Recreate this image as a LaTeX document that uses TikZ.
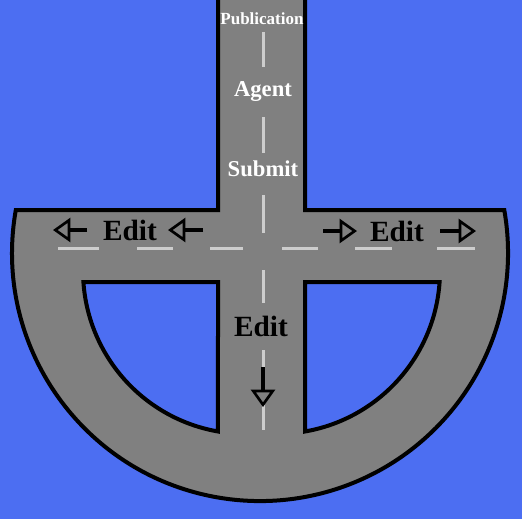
\documentclass[tikz,border=0pt]{standalone}
\usepackage{fontspec}
\setmainfont{Liberation Serif}
\usepackage{xcolor}
\usetikzlibrary{arrows.meta}
\definecolor{skyblue}{RGB}{76,110,242}
\definecolor{roadgray}{RGB}{128,128,128}
\definecolor{lanewhite}{RGB}{205,205,205}

\tikzset{
  road/.style={draw=black, line width=3pt, fill=roadgray, even odd rule},
  lane/.style={draw=lanewhite, line width=2.25pt},
  sign/.style={draw=black, line width=2.3pt, -{Triangle[length=13pt,width=18pt,line width=2pt,fill=roadgray]}},
  whitelabel/.style={text=white, font=\bfseries\fontsize{17}{20}\selectfont, inner sep=0pt},
  editlabel/.style={text=black, font=\bfseries\fontsize{22}{26}\selectfont, inner sep=0pt}
}

\begin{document}
\begin{tikzpicture}[x=0.75pt,y=0.75pt,yscale=-1,xscale=1]
\useasboundingbox (0,0) rectangle (522,519);
\clip (0,0) rectangle (522,519);
\fill [skyblue] (0,0) rectangle (522,519);

%road with the two holes
\draw [road] (218,-5) -- (218,210) -- (15.8,210) arc [start angle=190, end angle=-10, radius=248] -- (305,210) -- (305,-5) -- cycle
  (218,282) -- (83.4,282) arc [start angle=176.1, end angle=99.9, radius=163] -- cycle
  (305,282) -- (439.6,282) arc [start angle=3.9, end angle=80.1, radius=163] -- cycle ;

%lane marks
\foreach \a/\b in {32/67,117/153,195/233,270/303,350/430}
  \draw [lane] (263,\a) -- (263,\b) ;
\foreach \a/\b in {58/99,137/173,210/243,282/318,355/392,437/475}
  \draw [lane] (\a,248) -- (\b,248) ;

%signs
\draw [sign] (87,230) -- (53,230) ;
\draw [sign] (203,230) -- (168,230) ;
\draw [sign] (323,231) -- (357,231) ;
\draw [sign] (440,231) -- (476,231) ;
\draw [sign] (263,367) -- (263,407) ;

%labels
\node (pub) at (262,19) [whitelabel, font=\bfseries\fontsize{12.75}{15}\selectfont] {Publication};
\node (agent) at (263,92) [whitelabel] {Agent};
\node (submit) at (263,169) [whitelabel] {Submit};
\node (editw) at (130,230) [editlabel] {Edit};
\node (edite) at (397,231) [editlabel] {Edit};
\node (edits) at (261,326) [editlabel] {Edit};
\end{tikzpicture}
\end{document}
